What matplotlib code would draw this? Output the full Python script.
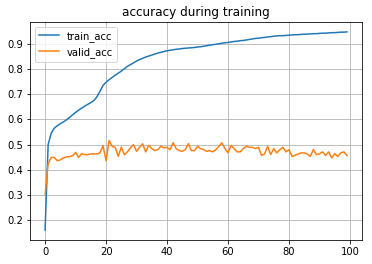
import matplotlib
matplotlib.use("Agg")
import matplotlib.pyplot as plt

epochs = list(range(100))
train_acc = [
    0.16, 0.50, 0.545, 0.565, 0.575, 0.583, 0.590, 0.598, 0.608, 0.618,
    0.628, 0.637, 0.645, 0.653, 0.660, 0.667, 0.675, 0.690, 0.712, 0.735,
    0.748, 0.758, 0.767, 0.776, 0.784, 0.792, 0.802, 0.811, 0.818, 0.825,
    0.832, 0.838, 0.843, 0.848, 0.852, 0.856, 0.860, 0.864, 0.867, 0.870,
    0.873, 0.875, 0.877, 0.879, 0.880, 0.882, 0.883, 0.884, 0.885, 0.886,
    0.888, 0.889, 0.891, 0.893, 0.895, 0.897, 0.899, 0.901, 0.903, 0.905,
    0.906, 0.908, 0.910, 0.911, 0.913, 0.914, 0.916, 0.918, 0.920, 0.922,
    0.923, 0.925, 0.926, 0.928, 0.929, 0.931, 0.932, 0.933, 0.933, 0.934,
    0.935, 0.936, 0.937, 0.937, 0.938, 0.939, 0.939, 0.940, 0.941, 0.941,
    0.942, 0.943, 0.943, 0.944, 0.945, 0.945, 0.946, 0.947, 0.947, 0.948,
]
valid_acc = [
    0.300, 0.424, 0.449, 0.449, 0.436, 0.439, 0.447, 0.451, 0.452, 0.455,
    0.469, 0.449, 0.464, 0.460, 0.460, 0.463, 0.463, 0.463, 0.467, 0.496,
    0.436, 0.516, 0.493, 0.489, 0.453, 0.490, 0.460, 0.471, 0.487, 0.500,
    0.473, 0.489, 0.503, 0.471, 0.497, 0.484, 0.476, 0.480, 0.493, 0.487,
    0.489, 0.480, 0.507, 0.484, 0.476, 0.473, 0.480, 0.504, 0.476, 0.476,
    0.493, 0.484, 0.480, 0.473, 0.476, 0.471, 0.480, 0.493, 0.507, 0.484,
    0.467, 0.497, 0.484, 0.471, 0.471, 0.484, 0.493, 0.489, 0.489, 0.484,
    0.489, 0.457, 0.463, 0.493, 0.460, 0.484, 0.467, 0.480, 0.489, 0.471,
    0.480, 0.453, 0.457, 0.463, 0.467, 0.467, 0.463, 0.453, 0.480, 0.460,
    0.463, 0.471, 0.457, 0.471, 0.447, 0.464, 0.453, 0.467, 0.471, 0.457,
]

fig = plt.figure(figsize=(372 / 72, 264 / 72), dpi=72)
ax = fig.add_axes([30 / 372, 24 / 264, 332 / 372, 218 / 264])
ax.plot(epochs, train_acc, label="train_acc")
ax.plot(epochs, valid_acc, label="valid_acc")
ax.set_title("accuracy during training")
ax.grid(True)
ax.legend(loc="upper left")
fig.savefig("out.png", dpi=72)
